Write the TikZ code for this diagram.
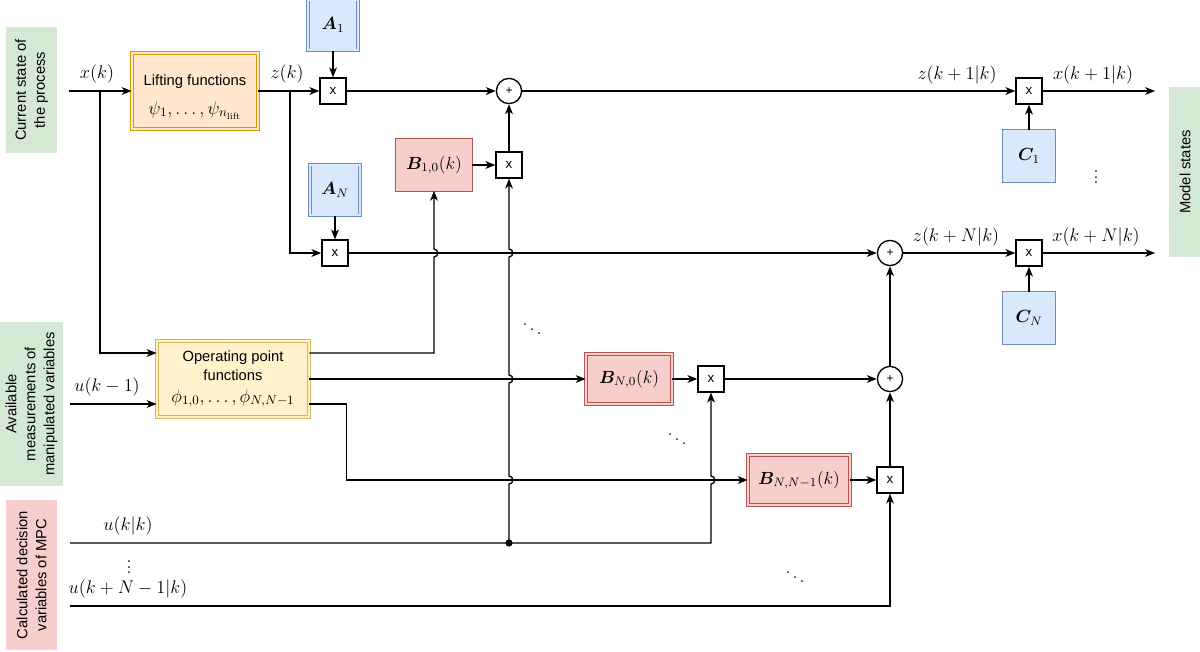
\documentclass[tikz,border=0pt]{standalone}
\usepackage{fix-cm}
\usepackage{fontspec}
\setsansfont{Liberation Sans}
\usepackage{amsmath,bm}
\usetikzlibrary{arrows.meta,calc,positioning}

\definecolor{bluefill}{HTML}{DAE8FC}
\definecolor{blueline}{HTML}{6C8EBF}
\definecolor{redfill}{HTML}{F8CECC}
\definecolor{redline}{HTML}{B85450}
\definecolor{orangefill}{HTML}{FFE6CC}
\definecolor{orangeline}{HTML}{D79B00}
\definecolor{yellowfill}{HTML}{FFF2CC}
\definecolor{yellowline}{HTML}{D6B656}
\definecolor{greentag}{HTML}{D5E8D4}
\definecolor{redtag}{HTML}{F8CECC}

\begin{document}
\begin{tikzpicture}[x=0.025cm, y=-0.025cm, > = {Stealth[length=7pt,width=5.5pt,inset=2pt]}, line width=0.95pt,
    gain/.style 2 args = {draw=#1, double=#2, fill=#2, double distance=1.4pt, line width=0.6pt, inner sep=1pt, font=\fontsize{12.5}{15}\selectfont},
    mult/.style = {draw, fill=white, minimum size=0.65cm, inner sep=0pt, font=\sffamily\fontsize{9.5}{10}\selectfont},
    sum/.style = {draw, circle, fill=white, minimum size=0.63cm, inner sep=0pt, font=\sffamily\fontsize{8.5}{9}\selectfont},
    tag/.style = {fill=#1, rotate=90, align=center, inner sep=0pt, font=\sffamily\fontsize{10.5}{13.5}\selectfont},
    lbl/.style = {inner sep=0.5pt, font=\fontsize{13}{15}\selectfont},
    dot/.style = {circle, fill, inner sep=0pt, minimum size=0.18cm},
    hop/.style = {insert path={-- ($(#1)+(0,4)$) .. controls ($(#1)+(5,4)$) and ($(#1)+(5,-4)$) .. ($(#1)+(0,-4)$)}}]

    \useasboundingbox (0,0) rectangle (1200,651);

    % side tags
    \node[tag=greentag, minimum width=3.15cm, minimum height=1.27cm] (cur) at (31.5,90) {Current state of\\the process};
    \node[tag=greentag, minimum width=4.1cm, minimum height=1.58cm] (meas) at (31.5,404) {Available\\measurements of\\manipulated variables};
    \node[tag=redtag, minimum width=3.75cm, minimum height=1.27cm] (dec) at (31.5,575) {Calculated decision\\variables of MPC};
    \node[tag=greentag, minimum width=4.23cm, minimum height=0.8cm] (mstates) at (1185,172) {Model states};

    % function blocks
    \node[gain={orangeline}{orangefill}, minimum width=3.15cm, minimum height=1.9cm, align=center, font=\sffamily\fontsize{10.5}{13.5}\selectfont] (lift) at (195,91)
        {\rule{0pt}{16pt}Lifting functions\\[7pt] \fontsize{13}{15}\selectfont $\psi_1,\ldots,\psi_{n_{\mathrm{lift}}}$};
    \node[gain={yellowline}{yellowfill}, minimum width=3.8cm, minimum height=1.9cm, align=center, font=\sffamily\fontsize{10.5}{13.5}\selectfont] (op) at (233,379)
        {Operating point\\functions\\[2pt] \fontsize{13}{15}\selectfont $\phi_{1,0},\ldots,\phi_{N,N-1}$};

    % matrices
    \node[gain={blueline}{bluefill}, minimum width=1.25cm, minimum height=1.27cm] (A1) at (333,25) {$\bm{A}_1$};
    \node[gain={blueline}{bluefill}, minimum width=1.25cm, minimum height=1.27cm] (AN) at (335,190) {$\bm{A}_N$};
    \node[gain={blueline}{bluefill}, minimum width=1.27cm, minimum height=1.27cm] (C1) at (1029,156) {$\bm{C}_1$};
    \node[gain={blueline}{bluefill}, minimum width=1.27cm, minimum height=1.27cm] (CN) at (1029,318) {$\bm{C}_N$};
    \node[gain={redline}{redfill}, minimum width=1.87cm, minimum height=1.27cm] (B10) at (434,165) {$\bm{B}_{1,0}(k)$};
    \node[gain={redline}{redfill}, minimum width=2.15cm, minimum height=1.25cm] (BN0) at (629,379) {$\bm{B}_{N,0}(k)$};
    \node[gain={redline}{redfill}, minimum width=2.55cm, minimum height=1.25cm] (BNN) at (799,480) {$\bm{B}_{N,N-1}(k)$};

    % products and sums
    \node[mult] (m1) at (333,91) {x};
    \node[mult] (mN) at (335,253) {x};
    \node[mult] (mB10) at (509,165) {x};
    \node[mult] (mC1) at (1029,91) {x};
    \node[mult] (mCN) at (1029,253) {x};
    \node[mult] (mBN0) at (711,379) {x};
    \node[mult] (mBNN) at (890,480) {x};
    \node[sum] (s1) at (509,91) {+};
    \node[sum] (sN) at (890,253) {+};
    \node[sum] (sN2) at (890,379) {+};

    % coordinates
    \coordinate (xin) at (69,91);
    \coordinate (xsplit) at (100,91);
    \coordinate (zsplit) at (290,91);
    \coordinate (uin) at (70,404);
    \coordinate (u0) at (70,543);
    \coordinate (uN) at (70,606);
    \coordinate (x1out) at (1155,91);
    \coordinate (xNout) at (1155,253);
    \coordinate (opin) at ($(op.west)+(0,-26)$);
    \coordinate (opu) at ($(op.west)+(0,25)$);
    \coordinate (op1) at ($(op.east)+(0,-26)$);
    \coordinate (op3) at ($(op.east)+(0,25)$);
    \coordinate (udot) at (u0 -| mB10);

    % state path
    \draw[->] (xin) -- (lift);
    \draw[->] (lift) -- (m1);
    \draw[->] (A1) -- (m1);
    \draw[->] (m1) -- (s1);
    \draw[->] (s1) -- (mC1);
    \draw[->] (C1) -- (mC1);
    \draw[->] (mC1) -- (x1out);
    \draw[->] (xsplit) |- (opin);
    \draw[->] (zsplit) |- (mN);
    \draw[->] (AN) -- (mN);
    \draw[->] (mN) -- (sN);
    \draw[->] (sN) -- (mCN);
    \draw[->] (CN) -- (mCN);
    \draw[->] (mCN) -- (xNout);

    % input path
    \draw[->] (uin) -- (opu);
    \draw[->] (op1) -- (op1 -| B10) [hop={B10 |- mN}] -- (B10);
    \draw[->] (op.east) -- (BN0);
    \draw[->] (op3) -- ++(37,0) |- (BNN);
    \draw[->] (B10) -- (mB10);
    \draw[->] (mB10) -- (s1);
    \draw[->] (BN0) -- (mBN0);
    \draw[->] (mBN0) -- (sN2);
    \draw[->] (sN2) -- (sN);
    \draw[->] (BNN) -- (mBNN);
    \draw[->] (mBNN) -- (sN2);

    % decision variables
    \draw[->] (u0) -- (u0 -| mBN0) [hop={mBN0 |- BNN}] -- (mBN0);
    \draw[->] (udot) [hop={udot |- BNN}] [hop={udot |- BN0}] [hop={udot |- mN}] -- (mB10);
    \draw[->] (uN) -| (mBNN);
    \node[dot] (ujoin) at (udot) {};

    % labels
    \node[lbl] (lxk) at (97,74) {$x(k)$};
    \node[lbl] (lzk) at (287,74) {$z(k)$};
    \node[lbl] (lz1) at (957,75) {$z(k+1|k)$};
    \node[lbl] (lx1) at (1093,75) {$x(k+1|k)$};
    \node[lbl] (lzN) at (956,237) {$z(k+N|k)$};
    \node[lbl] (lxN) at (1096,237) {$x(k+N|k)$};
    \node[lbl] (luk1) at (107,387) {$u(k-1)$};
    \node[lbl] (lu0) at (128,526) {$u(k|k)$};
    \node[lbl] (luN) at (128,589) {$u(k+N-1|k)$};

    % dots
    \node[lbl] (vd1) at (1096,173) {$\vdots$};
    \node[lbl] (vd2) at (129,563) {$\vdots$};
    \node[lbl] (dd1) at (532,325) {$\ddots$};
    \node[lbl] (dd2) at (677,435) {$\ddots$};
    \node[lbl] (dd3) at (795,573) {$\ddots$};

\end{tikzpicture}
\end{document}
